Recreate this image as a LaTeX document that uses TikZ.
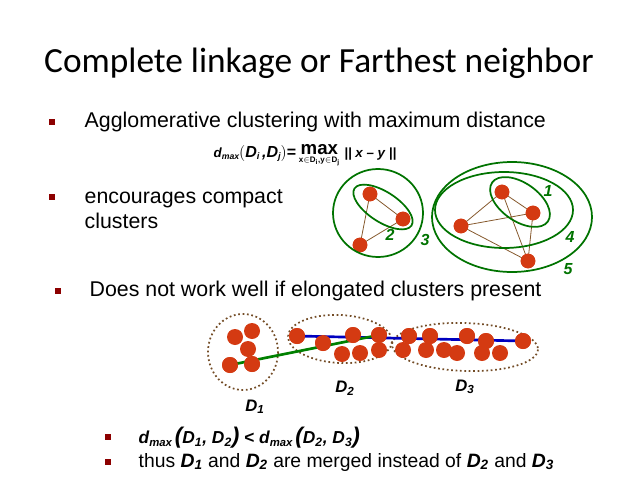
\documentclass[tikz,border=0pt]{standalone}
\usepackage{fontspec}
\setmainfont{Liberation Sans}
\newfontfamily\titlefont{Carlito}
\definecolor{dotc}{RGB}{212,58,18}
\begin{document}
\begin{tikzpicture}[x=0.75pt,y=-0.75pt,
  dot/.style={circle,fill=dotc,inner sep=0pt,minimum size=11pt},
  sdot/.style={circle,fill=dotc,inner sep=0pt,minimum size=12pt},
  edge/.style={draw=brown!70!black,line width=0.6pt},
  clus/.style={draw=green!45!black,line width=1.3pt},
  dotted clus/.style={draw=brown!60!black,dotted,line width=1.3pt},
  num/.style={text=green!45!black,font=\fontsize{12}{12}\selectfont\bfseries\itshape},
  bul/.style={fill=red!55!black,minimum size=5pt,inner sep=0pt},
  txt/.style={anchor=west,font=\fontsize{16}{19}\selectfont,align=left},
  dl/.style={font=\fontsize{12.5}{12}\selectfont\bfseries\itshape}]
\useasboundingbox (0,0) rectangle (638,478);
\node[font=\titlefont\fontsize{26.5}{28}\selectfont] (title) at (319,63) {Complete linkage or Farthest neighbor};
\node[bul] (b1) at (52,122) {};
\node[txt] (t1) at (80,122) {Agglomerative clustering with maximum distance};
\node (f1) at (305,155) {\fontsize{10}{10}\selectfont\bfseries\itshape d\raisebox{-2pt}{\fontsize{6.5}{6.5}\selectfont max}\fontsize{12}{12}\selectfont$\bigl($D\raisebox{-2pt}{\fontsize{7}{7}\selectfont\itshape i}\,,D\raisebox{-2pt}{\fontsize{7}{7}\selectfont\itshape j}$\bigr)$\upshape=\,\raisebox{-4pt}{\shortstack{\fontsize{14}{14}\selectfont max\\[-1pt]\fontsize{6}{6}\selectfont x$\in$D\textsubscript{i},y$\in$D\textsubscript{j}}}\;\fontsize{10}{10}\selectfont\itshape || x -- y ||};
\node[bul] (b2) at (52,197) {};
\node[txt,anchor=north west] (t2) at (80,185) {encourages compact\\clusters};
\node[bul] (b3) at (58,291) {};
\node[txt] (t3) at (85,291) {Does not work well if elongated clusters present};
% top-left cluster
\node[dot] (a1) at (370,194) {};
\node[dot] (a2) at (403,219) {};
\node[dot] (a3) at (360,245) {};
\draw[edge] (a1.center)--(a2.center) (a2.center)--(a3.center) (a3.center)--(a1.center);
\foreach \n in {a1,a2,a3}{\fill[dotc] (\n) circle[radius=5.5pt];}
\draw[clus] (383,207) ellipse[x radius=34, y radius=15, rotate=-33];
\draw[clus] (378,213) ellipse[x radius=45, y radius=44];
\node[num] (n2) at (390,235) {2};
\node[num] (n3) at (425,240) {3};
% top-right cluster
\node[dot] (c1) at (502,192) {};
\node[dot] (c2) at (533,213) {};
\node[dot] (c3) at (461,226) {};
\node[dot] (c4) at (528,261) {};
\draw[edge] (c3.center)--(c1.center) (c3.center)--(c2.center) (c3.center)--(c4.center) (c1.center)--(c2.center) (c1.center)--(c4.center) (c2.center)--(c4.center);
\foreach \n in {c1,c2,c3,c4}{\fill[dotc] (\n) circle[radius=5.5pt];}
\draw[clus] (520,202) ellipse[x radius=34, y radius=19, rotate=-35];
\draw[clus] (504,210) ellipse[x radius=69, y radius=38];
\draw[clus] (512,217) ellipse[x radius=80, y radius=55];
\node[num] (n1) at (548,191) {1};
\node[num] (n4) at (570,237) {4};
\node[num] (n5) at (568,269) {5};
% bottom
\draw[dotted clus] (243,352) ellipse[x radius=35, y radius=38];
\draw[dotted clus] (340,339) ellipse[x radius=52, y radius=24, rotate=-3];
\draw[dotted clus] (465,347) ellipse[x radius=73, y radius=24, rotate=-2];
\node[sdot] (d1) at (235,337) {};
\node[sdot] (d2) at (252,331) {};
\node[sdot] (d3) at (248,349) {};
\node[sdot] (d4) at (230,365) {};
\node[sdot] (d5) at (252,364) {};
\node[sdot] (e1) at (297,336) {};
\node[sdot] (e2) at (323,343) {};
\node[sdot] (e3) at (353,335) {};
\node[sdot] (e4) at (379,335) {};
\node[sdot] (e5) at (342,354) {};
\node[sdot] (e6) at (360,353) {};
\node[sdot] (e7) at (379,350) {};
\node[sdot] (g1) at (409,336) {};
\node[sdot] (g2) at (430,336) {};
\node[sdot] (g3) at (467,336) {};
\node[sdot] (g4) at (486,341) {};
\node[sdot] (g5) at (523,341) {};
\node[sdot] (g6) at (403,350) {};
\node[sdot] (g7) at (426,350) {};
\node[sdot] (g8) at (444,350) {};
\node[sdot] (g9) at (457,353) {};
\node[sdot] (g10) at (482,353) {};
\node[sdot] (g11) at (500,353) {};
\draw[blue!75!black,line width=2pt] (e1.center)--(g5.center);
\draw[green!50!black,line width=2pt] (d4.center)--(e4.center);
\foreach \n in {d4,d5,e1,e2,e3,e4,g1,g2,g3,g4,g5}{\fill[dotc] (\n) circle[radius=6pt];}
\node[dl] (D1) at (255,407) {D\textsubscript{1}};
\node[dl] (D2) at (345,388) {D\textsubscript{2}};
\node[dl] (D3) at (465,387) {D\textsubscript{3}};
\node[bul] (b4) at (108,437) {};
\node[anchor=west] (f2) at (134,438) {\fontsize{13}{13}\selectfont\bfseries\itshape d\raisebox{-2pt}{\fontsize{8.5}{8.5}\selectfont max}\,\fontsize{17}{17}\selectfont(\fontsize{13}{13}\selectfont D\textsubscript{1}, D\textsubscript{2}\fontsize{17}{17}\selectfont)\fontsize{13}{13}\selectfont\ \upshape<\itshape\ d\raisebox{-2pt}{\fontsize{8.5}{8.5}\selectfont max}\,\fontsize{17}{17}\selectfont(\fontsize{13}{13}\selectfont D\textsubscript{2}, D\textsubscript{3}\fontsize{17}{17}\selectfont)};
\node[bul] (b5) at (108,462) {};
\node[anchor=west,font=\fontsize{14.5}{15}\selectfont] (t5) at (134,462) {thus \textbf{\textit{D\textsubscript{1}}} and \textbf{\textit{D\textsubscript{2}}} are merged instead of \textbf{\textit{D\textsubscript{2}}} and \textbf{\textit{D\textsubscript{3}}}};
\end{tikzpicture}
\end{document}
